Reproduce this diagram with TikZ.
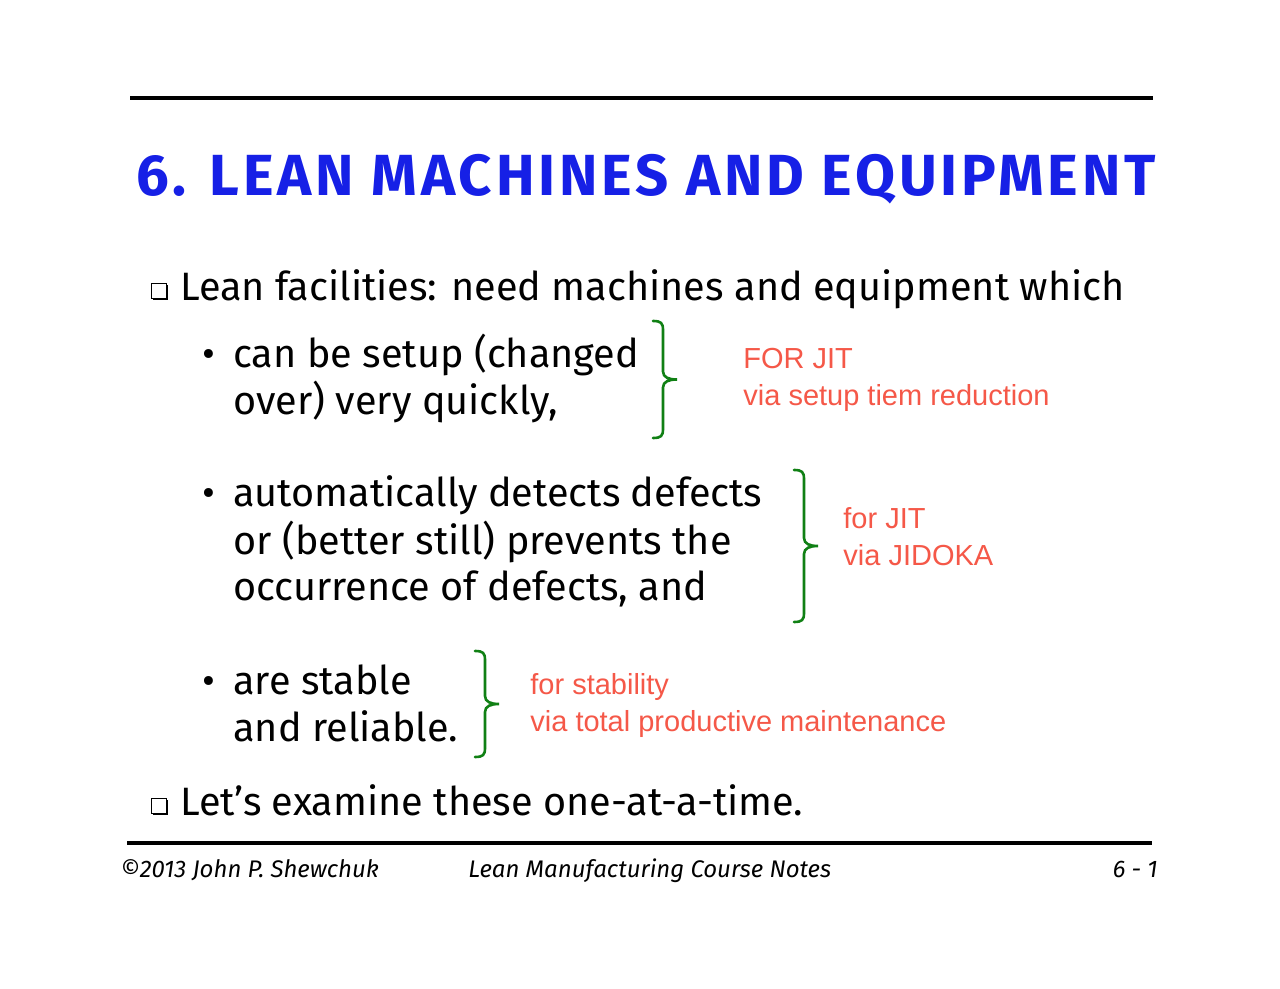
\documentclass[tikz,border=0pt]{standalone}
\usepackage{fontspec}
\setmainfont{Fira Sans}
\newfontfamily\notefont{Liberation Sans}
\usepackage{tikz}
\usetikzlibrary{
  positioning,
  calc,
  shadows
}
\definecolor{titleblue}{RGB}{22,32,230}
\definecolor{notered}{RGB}{245,88,72}
\definecolor{bracegreen}{RGB}{16,128,20}

\begin{document}
\begin{tikzpicture}[
      x=0.5pt, y=-0.5pt,
      title/.style={
         anchor=base west,
         inner sep=0pt,
         text=titleblue,
         font=\bfseries\fontsize{29}{31}\selectfont\addfontfeatures{LetterSpace=6.6}
      },
      body/.style={
         anchor=base west,
         inner sep=0pt,
         font=\fontsize{19.8}{24}\selectfont
      },
      note/.style={
         anchor=base west,
         inner sep=0pt,
         text=notered,
         font=\notefont\fontsize{14.5}{16}\selectfont
      },
      foot/.style={
         inner sep=0pt,
         font=\itshape\fontsize{12}{14}\selectfont
      },
      box bullet/.style={
         rectangle,
         draw, fill=white, line width=0.5pt,
         minimum size=7.5pt, inner sep=0pt,
         drop shadow={shadow xshift=0.7pt, shadow yshift=-0.7pt, opacity=1, fill=black}
      },
      rule/.style={line width=1.6pt},
      curly/.style={
         draw=bracegreen, line width=1.3pt, line cap=round,
         to path={
           let \p1=(\tikztostart), \p2=(\tikztotarget), \n1={0.5*(\y1+\y2)} in
           .. controls (\x1+4pt,\y1) and (\x1+5pt,\y1-1pt) .. (\x1+5pt,\y1-4.5pt)
           -- (\x1+5pt,\n1+4pt)
           .. controls (\x1+5pt,\n1+1pt) and (\x1+8pt,\n1) .. (\x1+12pt,\n1)
           .. controls (\x1+8pt,\n1) and (\x1+5pt,\n1-1pt) .. (\x1+5pt,\n1-4pt)
           -- (\x1+5pt,\y2+4.5pt)
           .. controls (\x1+5pt,\y2+1pt) and (\x1+4pt,\y2) .. (\tikztotarget)
         }
      }
    ]
    \useasboundingbox[fill=white] (0,0) rectangle (1280,989);
    % rules
    \coordinate (r1a) at (130,98);
    \coordinate (r1b) at (1153,98);
    \coordinate (r2a) at (127,843);
    \coordinate (r2b) at (1152,843);
    \draw[rule] (r1a) -- (r1b);
    \draw[rule] (r2a) -- (r2b);
    % title
    \node (t) [title] at (136,196) {6. LEAN MACHINES AND EQUIPMENT};
    % first point
    \node (q1) [box bullet] at (159,291) {};
    \node (p1) [body] at (180,301) {Lean facilities: need machines and equipment which};
    % setup
    \node (d1) [body] at (202,368) {\textbullet};
    \node (a1) [body] at (233,368) {can be setup (changed};
    \node (a2) [body] at (233,415) {over) very quickly,};
    \coordinate (k1a) at (653,321);
    \coordinate (k1b) at (653,438);
    \draw[curly] (k1a) to (k1b);
    \node (n1) [note] at (743,369) {FOR JIT};
    \node (n2) [note] at (743,406) {via setup tiem reduction};
    % defects
    \node (d2) [body] at (202,507) {\textbullet};
    \node (b1) [body] at (233,507) {automatically detects defects};
    \node (b2) [body] at (233,554) {or (better still) prevents the};
    \node (b3) [body] at (233,600) {occurrence of defects, and};
    \coordinate (k2a) at (794,470);
    \coordinate (k2b) at (794,622);
    \draw[curly] (k2a) to (k2b);
    \node (n3) [note] at (843,529) {for JIT};
    \node (n4) [note] at (843,566) {via JIDOKA};
    % stable
    \node (d3) [body] at (202,694) {\textbullet};
    \node (c1) [body] at (233,694) {are stable};
    \node (c2) [body] at (233,741) {and reliable.};
    \coordinate (k3a) at (475,651);
    \coordinate (k3b) at (475,757);
    \draw[curly] (k3a) to (k3b);
    \node (n5) [note] at (530,694) {for stability};
    \node (n6) [note] at (530,731) {via total productive maintenance};
    % last point
    \node (q2) [box bullet] at (159,806) {};
    \node (p2) [body] at (180,815) {Let's examine these one-at-a-time.};
    % footer
    \node (f1) [foot, anchor=base west] at (120,877) {\copyright2013 John P. Shewchuk};
    \node (f2) [foot, anchor=base west] at (468,877) {Lean Manufacturing Course Notes};
    \node (f3) [foot, anchor=base east] at (1158,877) {6 - 1};
\end{tikzpicture}
\end{document}
